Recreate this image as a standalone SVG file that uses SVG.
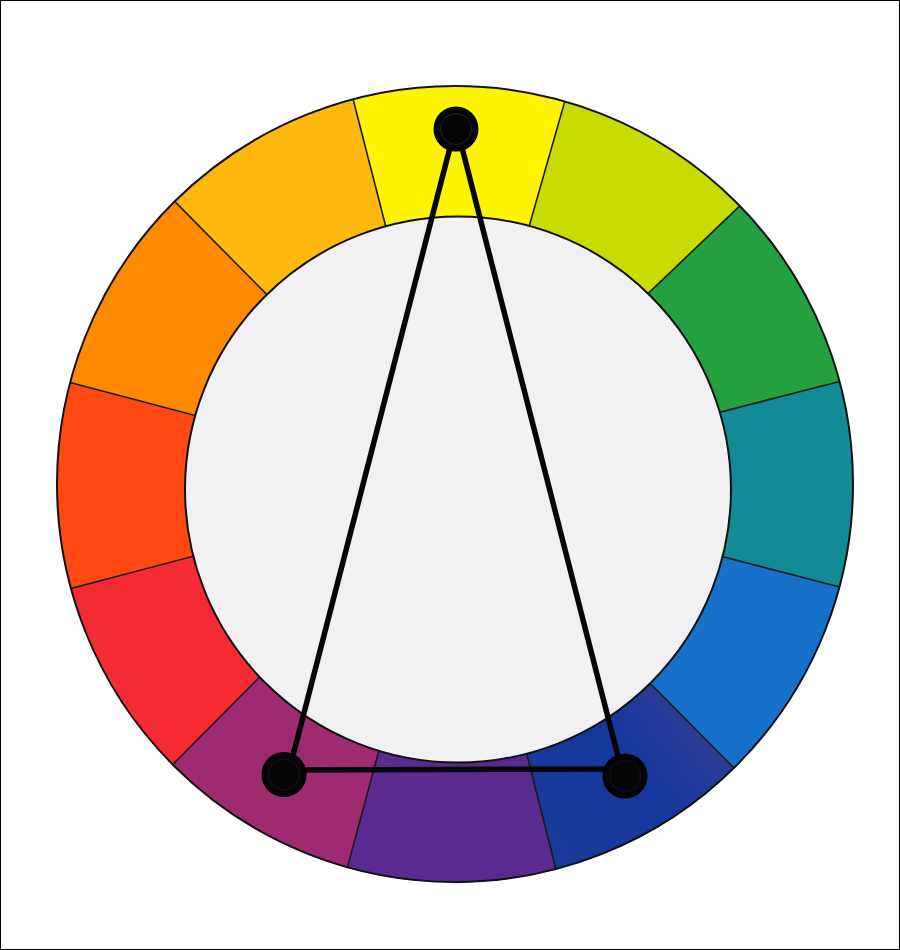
<svg xmlns="http://www.w3.org/2000/svg" width="900" height="950" viewBox="0 0 900 950">
  <defs>
    <style>
      .seg { stroke: none; }
      .div { stroke: #1a1a1a; stroke-width: 1.6; fill: none; }
      .edge { stroke: #050505; stroke-width: 5.5; stroke-linecap: round; fill: none; }
      .dot { fill: #050505; stroke: #000; stroke-width: 3; }
      .ring { fill: none; stroke-width: 0.6; }
    </style>
    <linearGradient id="bvGrad" x1="740" y1="700" x2="560" y2="840" gradientUnits="userSpaceOnUse">
      <stop offset="0" stop-color="#3C3F90"/>
      <stop offset="0.55" stop-color="#15389E"/>
      <stop offset="1" stop-color="#1A3A98"/>
    </linearGradient>
  </defs>

  <rect x="0" y="0" width="900" height="950" fill="#ffffff"/>
  <rect x="0.5" y="0.5" width="899" height="949" fill="none" stroke="#000" stroke-width="1"/>

  <g id="wheel">
    <path id="seg-yellow" class="seg" fill="#FFF500" d="M353.1,99.2 A398,398 0 0 1 564.8,101.4 L509.1,296.4 L404.1,297.8 Z"/>
    <path id="seg-yellow-green" class="seg" fill="#C7DC02" d="M564.8,101.4 A398,398 0 0 1 739.8,205.9 L596.1,343.2 L509.1,296.4 Z"/>
    <path id="seg-green" class="seg" fill="#23A140" d="M739.8,205.9 A398,398 0 0 1 839.6,381.4 L651.0,429.9 L596.1,343.2 Z"/>
    <path id="seg-teal" class="seg" fill="#138B97" d="M839.6,381.4 A398,398 0 0 1 839.5,587.0 L656.3,539.5 L651.0,429.9 Z"/>
    <path id="seg-blue" class="seg" fill="#1771CA" d="M839.5,587.0 A398,398 0 0 1 733.9,767.9 L604.0,636.9 L656.3,539.5 Z"/>
    <path id="seg-blue-violet" class="seg" fill="url(#bvGrad)" d="M733.9,767.9 A398,398 0 0 1 555.9,869.0 L510.1,688.2 L604.0,636.9 Z"/>
    <path id="seg-violet" class="seg" fill="#592B91" d="M555.9,869.0 A398,398 0 0 1 347.2,868.1 L397.0,683.5 L510.1,688.2 Z"/>
    <path id="seg-red-violet" class="seg" fill="#9E2B70" d="M347.2,868.1 A398,398 0 0 1 172.7,764.6 L309.7,626.5 L397.0,683.5 Z"/>
    <path id="seg-red" class="seg" fill="#F62A33" d="M172.7,764.6 A398,398 0 0 1 70.9,588.5 L264.2,537.6 L309.7,626.5 Z"/>
    <path id="seg-red-orange" class="seg" fill="#FF4913" d="M70.9,588.5 A398,398 0 0 1 70.1,382.5 L267.2,434.5 L264.2,537.6 Z"/>
    <path id="seg-orange" class="seg" fill="#FF8A02" d="M70.1,382.5 A398,398 0 0 1 174.7,201.4 L319.2,347.5 L267.2,434.5 Z"/>
    <path id="seg-yellow-orange" class="seg" fill="#FFB80E" d="M174.7,201.4 A398,398 0 0 1 353.1,99.2 L404.1,297.8 L319.2,347.5 Z"/>

    <g id="dividers">
      <line class="div" x1="509.1" y1="296.4" x2="564.8" y2="101.4"/>
      <line class="div" x1="596.1" y1="343.2" x2="739.8" y2="205.9"/>
      <line class="div" x1="651.0" y1="429.9" x2="839.6" y2="381.4"/>
      <line class="div" x1="656.3" y1="539.5" x2="839.5" y2="587.0"/>
      <line class="div" x1="604.0" y1="636.9" x2="733.9" y2="767.9"/>
      <line class="div" x1="510.1" y1="688.2" x2="555.9" y2="869.0"/>
      <line class="div" x1="397.0" y1="683.5" x2="347.2" y2="868.1"/>
      <line class="div" x1="309.7" y1="626.5" x2="172.7" y2="764.6"/>
      <line class="div" x1="264.2" y1="537.6" x2="70.9" y2="588.5"/>
      <line class="div" x1="267.2" y1="434.5" x2="70.1" y2="382.5"/>
      <line class="div" x1="319.2" y1="347.5" x2="174.7" y2="201.4"/>
      <line class="div" x1="404.1" y1="297.8" x2="353.1" y2="99.2"/>
    </g>

    <circle id="inner" cx="458" cy="489.5" r="273" fill="#F1F1F3" stroke="#111" stroke-width="2"/>
    <circle id="outer" cx="455" cy="484" r="398" fill="none" stroke="#111" stroke-width="2"/>
  </g>

  <g id="connectors">
    <line class="edge" x1="454" y1="132" x2="289" y2="771"/>
    <line class="edge" x1="458" y1="132" x2="622" y2="772"/>
    <line class="edge" x1="290" y1="770" x2="622" y2="769"/>
  </g>

  <g id="node-top">
    <circle class="dot" cx="456" cy="129" r="21"/>
    <circle class="ring" cx="456" cy="129" r="15.5" stroke="#3A3814"/>
  </g>
  <g id="node-bottom-left">
    <circle class="dot" cx="284" cy="774.5" r="21"/>
    <circle class="ring" cx="284" cy="774.5" r="15.5" stroke="#3A1430"/>
  </g>
  <g id="node-bottom-right">
    <circle class="dot" cx="625" cy="776" r="21"/>
    <circle class="ring" cx="625" cy="776" r="15.5" stroke="#0E1C48"/>
  </g>
</svg>
